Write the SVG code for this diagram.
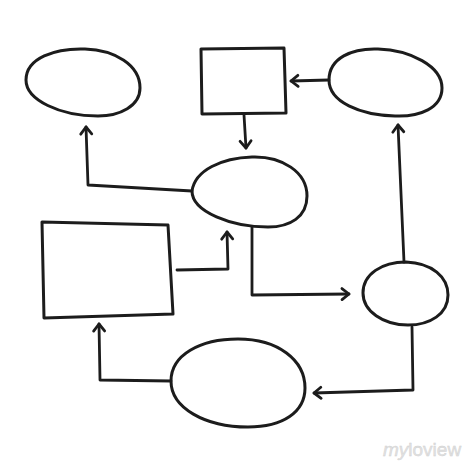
<svg xmlns="http://www.w3.org/2000/svg" width="474" height="474" viewBox="0 0 474 474">
<style>
.s{fill:none;stroke:#1c1c1c;stroke-width:3;stroke-linecap:round;stroke-linejoin:round}
.c{fill:none;stroke:#1c1c1c;stroke-width:2.8;stroke-linecap:round;stroke-linejoin:round;marker-end:url(#ah)}
.wm{font-family:"Liberation Sans",Arial,sans-serif;font-size:19px;fill:#e2e2e2;stroke:#cfcfcf;stroke-width:0.4}
</style>
<defs>
<marker id="ah" viewBox="-10 -8 12 16" markerWidth="12" markerHeight="16" refX="0" refY="0" orient="auto" markerUnits="userSpaceOnUse">
<path d="M-7,-5.5 L0,0 L-7,5.5" fill="none" stroke="#1c1c1c" stroke-width="2.8" stroke-linecap="round" stroke-linejoin="round"/>
</marker>
</defs>
<rect width="474" height="474" fill="#fff"/>
<g id="n-topleft"><path class="s" d="M26,80 C26,58 55,48 85,49 C115,50 140,65 140,88 C140,106 120,116 98,116 C60,116 26,100 26,80 Z"/></g>
<g id="n-topmid"><path class="s" d="M201,49 L284,48 L285,80 L286,113 L202,114 Z"/></g>
<g id="n-topright"><path class="s" d="M329,80 C329,58 352,48 378,49 C410,50 442,66 442,88 C442,108 420,117 395,116 C360,115 329,102 329,80 Z"/></g>
<g id="n-center"><path class="s" d="M192,191 C195,170 222,158 252,157 C282,156 307,172 307,196 C307,217 290,227 268,227 C232,227 192,212 192,191 Z"/></g>
<g id="n-leftrect"><path class="s" d="M42,222 L168,225 L173,314 L44,318 Z"/></g>
<g id="n-right"><path class="s" d="M363,293 C363,274 382,262 406,262 C432,263 448,277 448,295 C448,314 430,325 408,325 C383,325 363,311 363,293 Z"/></g>
<g id="n-bottom"><path class="s" d="M171,381 C171,355 200,339 238,339 C278,339 305,360 305,388 C305,412 283,427 248,427 C205,427 171,408 171,381 Z"/></g>
<g id="connectors">
<path class="c" d="M329,80 L291,81"/>
<path class="c" d="M244,115 L246,148"/>
<path class="c" d="M192,191 L88,185 L86,127"/>
<path class="c" d="M177,270 L228,269 L227,232"/>
<path class="c" d="M252,227 L252,295 L349,294"/>
<path class="c" d="M404,262 L398,125"/>
<path class="c" d="M412,327 L413,390 L314,393"/>
<path class="c" d="M171,381 L100,380 L99,324"/>
</g>
<text class="wm" x="383" y="456"><tspan font-style="italic">my</tspan>loview</text>
</svg>
